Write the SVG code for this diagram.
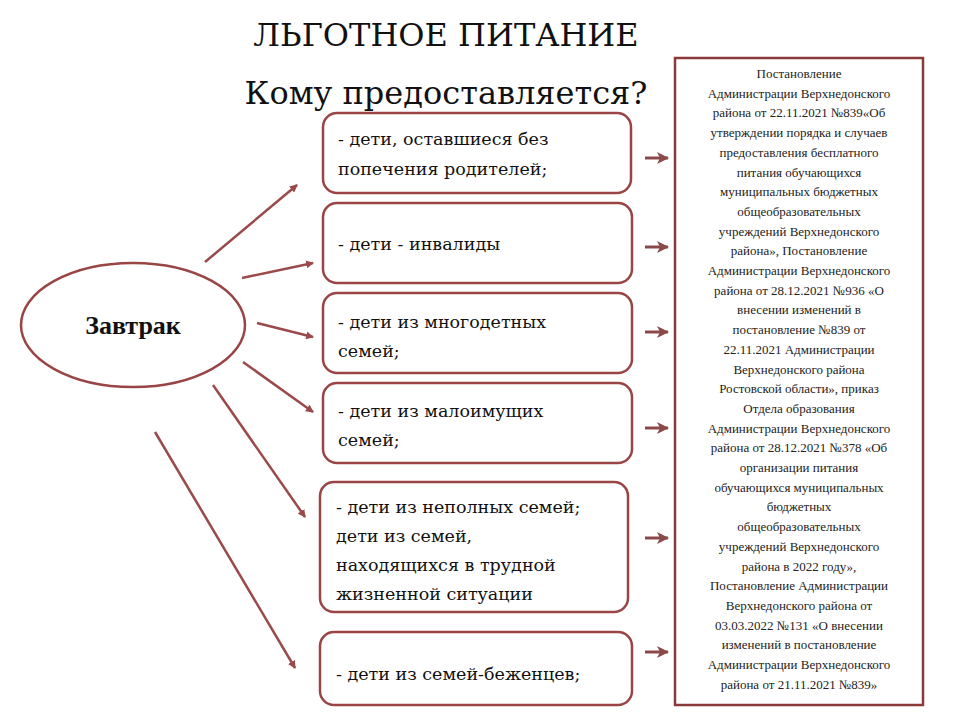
<svg xmlns="http://www.w3.org/2000/svg" width="960" height="720" viewBox="0 0 960 720">
<defs>
<style>
text{font-family:"Liberation Serif",serif}
.dv{font-family:"DejaVu Serif",serif}
.box{fill:#fff;stroke:#9a4545;stroke-width:2.5}
.c{stroke:#9a4a4a;stroke-width:2.5;fill:none;marker-end:url(#ah)}
.s{font-size:13px;fill:#222;text-anchor:middle}
</style>
<marker id="ah" markerWidth="8" markerHeight="8" refX="7" refY="4" orient="auto" markerUnits="userSpaceOnUse"><path d="M0,0 L8,4 L0,8 z" fill="#9a4a4a"/></marker>
<marker id="ah2" markerWidth="12" markerHeight="12" refX="11" refY="6" orient="auto" markerUnits="userSpaceOnUse"><path d="M0,0 L12,6 L0,12 L3,6 z" fill="#8a4a4a"/></marker>
</defs>
<rect width="960" height="720" fill="#fff"/>
<g fill="#111">
<text class="dv" x="446" y="46" font-size="32" text-anchor="middle">ЛЬГОТНОЕ ПИТАНИЕ</text>
<text class="dv" x="446" y="104" font-size="32" text-anchor="middle">Кому предоставляется?</text>
<g id="zavtrak"><ellipse cx="133" cy="325" rx="112" ry="62" fill="#fff" stroke="#9a4545" stroke-width="2.5"/><text x="133" y="334" font-size="26" font-weight="bold" text-anchor="middle">Завтрак</text></g>
<g class="dv" font-size="17.5">
<g id="b1"><rect class="box" x="323" y="113" width="308" height="80" rx="14"/><text class="dv" x="338" y="145">- дети, оставшиеся без</text><text class="dv" x="338" y="175">попечения родителей;</text></g>
<g id="b2"><rect class="box" x="323" y="203" width="309" height="80" rx="14"/><text class="dv" x="338" y="250">- дети - инвалиды</text></g>
<g id="b3"><rect class="box" x="323" y="293" width="309" height="80" rx="14"/><text class="dv" x="338" y="328">- дети из многодетных</text><text class="dv" x="338" y="357">семей;</text></g>
<g id="b4"><rect class="box" x="323" y="383" width="309" height="80" rx="14"/><text class="dv" x="338" y="417">- дети из малоимущих</text><text class="dv" x="338" y="446">семей;</text></g>
<g id="b5"><rect class="box" x="320" y="482" width="308" height="130" rx="14"/><text class="dv" x="336" y="513">- дети из неполных семей;</text><text class="dv" x="336" y="542">дети из семей,</text><text class="dv" x="336" y="571">находящихся в трудной</text><text class="dv" x="336" y="600">жизненной ситуации</text></g>
<g id="b6"><rect class="box" x="320" y="632" width="312" height="73" rx="14"/><text class="dv" x="336" y="680">- дети из семей-беженцев;</text></g>
</g>
<g id="doc"><rect x="675" y="58" width="248" height="647" fill="#fff" stroke="#8a3a3a" stroke-width="2.5"/>
<text class="s" y="78"><tspan x="799">Постановление</tspan><tspan x="799" dy="19.7">Администрации Верхнедонского</tspan><tspan x="799" dy="19.7">района от 22.11.2021 №839«Об</tspan><tspan x="799" dy="19.7">утверждении порядка и случаев</tspan><tspan x="799" dy="19.7">предоставления бесплатного</tspan><tspan x="799" dy="19.7">питания обучающихся</tspan><tspan x="799" dy="19.7">муниципальных бюджетных</tspan><tspan x="799" dy="19.7">общеобразовательных</tspan><tspan x="799" dy="19.7">учреждений Верхнедонского</tspan><tspan x="799" dy="19.7">района», Постановление</tspan><tspan x="799" dy="19.7">Администрации Верхнедонского</tspan><tspan x="799" dy="19.7">района от 28.12.2021 №936 «О</tspan><tspan x="799" dy="19.7">внесении изменений в</tspan><tspan x="799" dy="19.7">постановление №839 от</tspan><tspan x="799" dy="19.7">22.11.2021 Администрации</tspan><tspan x="799" dy="19.7">Верхнедонского района</tspan><tspan x="799" dy="19.7">Ростовской области», приказ</tspan><tspan x="799" dy="19.7">Отдела образования</tspan><tspan x="799" dy="19.7">Администрации Верхнедонского</tspan><tspan x="799" dy="19.7">района от 28.12.2021 №378 «Об</tspan><tspan x="799" dy="19.7">организации питания</tspan><tspan x="799" dy="19.7">обучающихся муниципальных</tspan><tspan x="799" dy="19.7">бюджетных</tspan><tspan x="799" dy="19.7">общеобразовательных</tspan><tspan x="799" dy="19.7">учреждений Верхнедонского</tspan><tspan x="799" dy="19.7">района в 2022 году»,</tspan><tspan x="799" dy="19.7">Постановление Администрации</tspan><tspan x="799" dy="19.7">Верхнедонского района от</tspan><tspan x="799" dy="19.7">03.03.2022 №131 «О внесении</tspan><tspan x="799" dy="19.7">изменений в постановление</tspan><tspan x="799" dy="19.7">Администрации Верхнедонского</tspan><tspan x="799" dy="19.7">района от 21.11.2021 №839»</tspan></text></g>
</g>
<g id="connectors">
<path class="c" d="M205,262 L297,185"/>
<path class="c" d="M242,278 L313,263"/>
<path class="c" d="M257,323 L313,337"/>
<path class="c" d="M243,362 L313,412"/>
<path class="c" d="M213,385 L305,517"/>
<path class="c" d="M155,432 L295,668"/>
<g stroke="#8a4a4a" stroke-width="3" marker-end="url(#ah2)">
<path d="M645,158 L668,158"/><path d="M645,247 L668,247"/><path d="M645,332 L668,332"/><path d="M645,428 L668,428"/><path d="M645,538 L668,538"/><path d="M645,652 L668,652"/>
</g>
</g>
</svg>
